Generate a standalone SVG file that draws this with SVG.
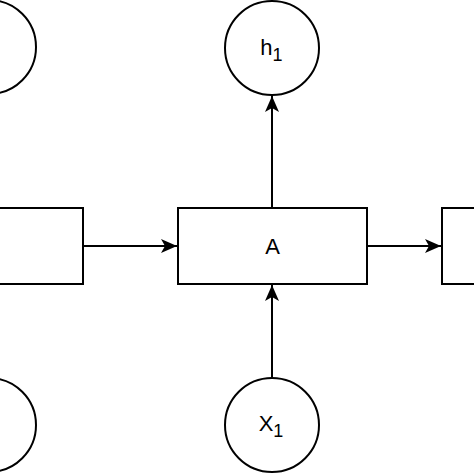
<svg xmlns="http://www.w3.org/2000/svg" width="474" height="474" viewBox="0 0 474 474">
<style>
.n{fill:#fff;stroke:#000;stroke-width:2}
.e{fill:none;stroke:#000;stroke-width:2}
.t{font-family:"Liberation Sans",Arial,sans-serif;font-size:22px;fill:#000;text-anchor:middle}
.s{font-size:18px}
</style>
<defs>
<marker id="ar" markerWidth="17" markerHeight="15" refX="16" refY="7" orient="auto" markerUnits="userSpaceOnUse">
<path d="M0,0 L16,7 L0,14 L4,7 Z" fill="#000"/>
</marker>
</defs>
<rect width="474" height="474" fill="#fff"/>
<g id="connectors">
<line class="e" x1="83" y1="246" x2="177" y2="246" marker-end="url(#ar)"/>
<line class="e" x1="367" y1="246" x2="441" y2="246" marker-end="url(#ar)"/>
<line class="e" x1="272" y1="208" x2="272" y2="96" marker-end="url(#ar)"/>
<line class="e" x1="272" y1="378" x2="272" y2="285" marker-end="url(#ar)"/>
</g>
<g id="left-top"><circle class="n" cx="-11" cy="47" r="47"/></g>
<g id="left-bottom"><circle class="n" cx="-11" cy="425" r="47"/></g>
<g id="left-box"><rect class="n" x="-106" y="208" width="189" height="76"/></g>
<g id="right-box"><rect class="n" x="442" y="208" width="189" height="76"/></g>
<g id="A"><rect class="n" x="178" y="208" width="189" height="76"/><text class="t" x="272.5" y="254">A</text></g>
<g id="h1"><circle class="n" cx="272" cy="48" r="47"/><text class="t" x="271.5" y="55">h<tspan class="s" dy="6">1</tspan></text></g>
<g id="x1"><circle class="n" cx="272" cy="425" r="47"/><text class="t" x="271" y="431">X<tspan class="s" dy="6">1</tspan></text></g>
</svg>
